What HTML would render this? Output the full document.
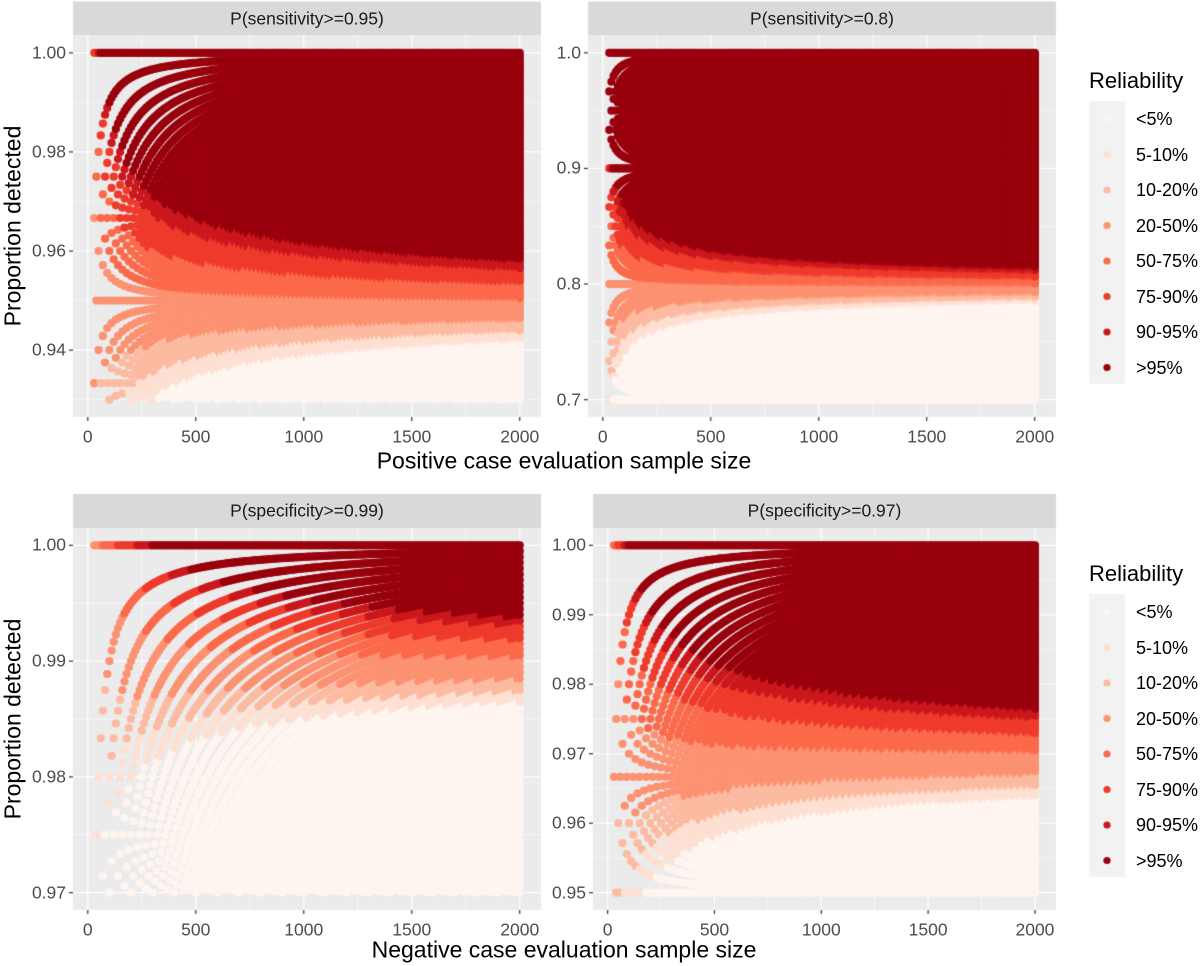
<!DOCTYPE html>
<html><head><meta charset="utf-8">
<style>
body{margin:0;background:#fff;width:1200px;height:966px;position:relative;overflow:hidden;font-family:"Liberation Sans",Arial,sans-serif}
.t{position:absolute;white-space:nowrap}
canvas{position:absolute;left:0;top:0}
</style></head><body>
<canvas id="cv" width="1200" height="966"></canvas>
<div id="txt"></div>
<script>
// ---- data ----
const panelTitles = ["P(sensitivity>=0.95)","P(sensitivity>=0.8)","P(specificity>=0.99)","P(specificity>=0.97)"];
const thresholds = [0.95, 0.8, 0.99, 0.97];
const lowerBounds = [0.93, 0.7, 0.97, 0.95];
const nMin = 30, nMax = 2000, nStep = 10;
const xTicks = [0,500,1000,1500,2000];
const xTickLabels = ["0","500","1000","1500","2000"];
const yTicksTL = [0.94,0.96,0.98,1.00];
const yTicksTR = [0.7,0.8,0.9,1.0];
const yTicksBL = [0.97,0.98,0.99,1.00];
const yTicksBR = [0.95,0.96,0.97,0.98,0.99,1.00];
const yLabelsTL = ["0.94","0.96","0.98","1.00"];
const yLabelsTR = ["0.7","0.8","0.9","1.0"];
const yLabelsBL = ["0.97","0.98","0.99","1.00"];
const yLabelsBR = ["0.95","0.96","0.97","0.98","0.99","1.00"];
const reliabilityBreaks = [0.05,0.1,0.2,0.5,0.75,0.9,0.95];
const legendLabels = ["<5%","5-10%","10-20%","20-50%","50-75%","75-90%","90-95%",">95%"];
const palette = ["#FFF5F0","#FEE0D2","#FCBBA1","#FC9272","#FB6A4A","#EF3B2C","#CB181D","#99000D"];

// ---- layout ----
const panels = [
 {L:73,R:541,T:35.5,B:417,yt:yTicksTL,yl:yLabelsTL,name:"sensitivity-95"},
 {L:588,R:1056,T:35.5,B:417,yt:yTicksTR,yl:yLabelsTR,name:"sensitivity-80"},
 {L:73,R:541,T:528,B:910,yt:yTicksBL,yl:yLabelsBL,name:"specificity-99"},
 {L:593,R:1056,T:528,B:910,yt:yTicksBR,yl:yLabelsBR,name:"specificity-97"}
];
const cv=document.getElementById('cv'),ctx=cv.getContext('2d');
const txt=document.getElementById('txt');
function addText(s,x,y,size,color,align,name,rot){
 const d=document.createElement('div');d.className='t';d.textContent=s;
 
 
 d.style.fontSize=size+'px';d.style.color=color;d.style.lineHeight='1';
 let tx=align==='right'?'-100%':align==='center'?'-50%':'0';
 d.style.left=x+'px';d.style.top=y+'px';
 d.style.transform='translate('+tx+',-50%)'+(rot?' rotate(-90deg)':'');
 txt.appendChild(d);
}
const lf=[0];for(let i=1;i<=nMax+2;i++)lf[i]=lf[i-1]+Math.log(i);
function colorFor(r){let i=0;while(i<reliabilityBreaks.length&&r>=reliabilityBreaks[i])i++;return palette[i];}

panels.forEach((p,pi)=>{
 const lo=lowerBounds[pi], th=thresholds[pi];
 const ys=(1-lo)*0.05, xs=(nMax-nMin)*0.05;
 const X=v=>p.L+(v-(nMin-xs))/((nMax+xs)-(nMin-xs))*(p.R-p.L);
 const Y=v=>p.B-(v-(lo-ys))/((1+ys)-(lo-ys))*(p.B-p.T);
 ctx.fillStyle="#D9D9D9";ctx.fillRect(p.L,p.T-34,p.R-p.L,34);
 addText(panelTitles[pi],(p.L+p.R)/2,p.T-17,17.5,"#1A1A1A","center","strip-title-"+p.name);
 ctx.fillStyle="#EBEBEB";ctx.fillRect(p.L,p.T,p.R-p.L,p.B-p.T);
 ctx.strokeStyle="#fff";
 ctx.lineWidth=0.6;
 for(let i=0;i<xTicks.length-1;i++){const x=X((xTicks[i]+xTicks[i+1])/2);ctx.beginPath();ctx.moveTo(x,p.T);ctx.lineTo(x,p.B);ctx.stroke();}
 for(let i=0;i<p.yt.length-1;i++){const y=Y((p.yt[i]+p.yt[i+1])/2);ctx.beginPath();ctx.moveTo(p.L,y);ctx.lineTo(p.R,y);ctx.stroke();}
 {const d=p.yt[1]-p.yt[0];const y=Y(p.yt[0]-d/2);if(y<p.B){ctx.beginPath();ctx.moveTo(p.L,y);ctx.lineTo(p.R,y);ctx.stroke();}}
 ctx.lineWidth=1.2;
 xTicks.forEach((v,i)=>{const x=X(v);ctx.beginPath();ctx.moveTo(x,p.T);ctx.lineTo(x,p.B);ctx.stroke();
  ctx.strokeStyle="#333";ctx.beginPath();ctx.moveTo(x,p.B);ctx.lineTo(x,p.B+4);ctx.stroke();ctx.strokeStyle="#fff";
  addText(xTickLabels[i],x,p.B+20,17.5,"#4D4D4D","center","x-tick-label-"+p.name);});
 p.yt.forEach((v,i)=>{const y=Y(v);ctx.beginPath();ctx.moveTo(p.L,y);ctx.lineTo(p.R,y);ctx.stroke();
  ctx.strokeStyle="#333";ctx.beginPath();ctx.moveTo(p.L-4,y);ctx.lineTo(p.L,y);ctx.stroke();ctx.strokeStyle="#fff";
  addText(p.yl[i],p.L-7,y,17.5,"#4D4D4D","right","y-tick-label-"+p.name);});
 ctx.save();ctx.beginPath();ctx.rect(p.L,p.T,p.R-p.L,p.B-p.T);ctx.clip();
 const lt=Math.log(th),l1=Math.log(1-th);
 for(let n=nMin;n<=nMax;n+=nStep){
  const N=n+1;const cdf=new Float64Array(N+1);let s=0;
  for(let j=0;j<=N;j++){s+=Math.exp(lf[N]-lf[j]-lf[N-j]+j*lt+(N-j)*l1);cdf[j]=s;}
  const kmin=Math.ceil(lo*n-1e-9);
  const x=X(n);
  for(let k=kmin;k<=n;k++){
   const r=Math.min(1,cdf[k]);
   ctx.fillStyle=colorFor(r);
   ctx.beginPath();ctx.arc(x,Y(k/n),4.1,0,6.2832);ctx.fill();
  }
 }
 ctx.restore();
});
addText("Positive case evaluation sample size",564,461,23,"#000","center","x-axis-title-top");
addText("Negative case evaluation sample size",564,950,23,"#000","center","x-axis-title-bottom");
addText("Proportion detected",13,226,23,"#000","center","y-axis-title-top",true);
addText("Proportion detected",13,719,23,"#000","center","y-axis-title-bottom",true);
[0,493].forEach((off,li)=>{
 addText("Reliability",1089,81+off,22,"#000","left","legend-title-"+li);
 ctx.fillStyle="#F2F2F2";ctx.fillRect(1089,101+off,36,283);
 legendLabels.forEach((lab,i)=>{
  const y=119+off+i*35.5;
  ctx.fillStyle=palette[i];ctx.beginPath();ctx.arc(1107,y,3.6,0,6.2832);ctx.fill();
  addText(lab,1136,y,18,"#000","left","legend-entry-"+li);
 });
});
</script>
</body></html>
